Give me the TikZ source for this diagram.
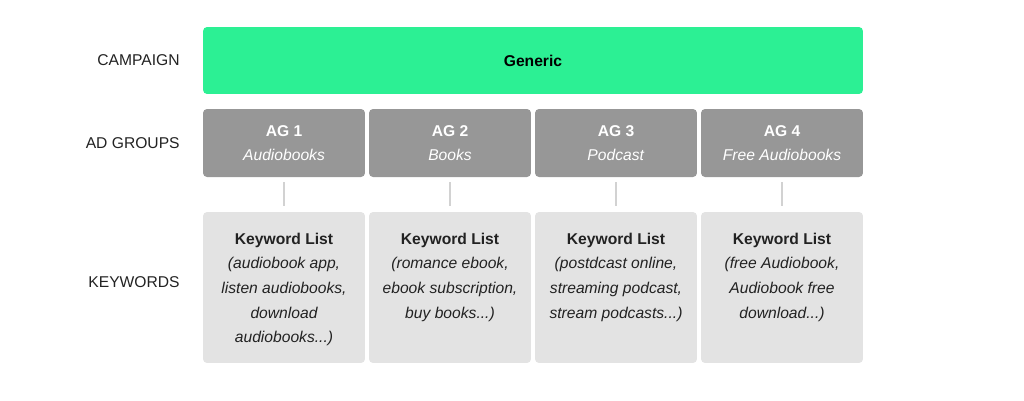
\documentclass[tikz,border=0pt]{standalone}
\usepackage{fontspec}
\setmainfont{Liberation Sans}
\usepackage{tikz}
\usetikzlibrary{positioning}
\definecolor{campgreen}{HTML}{2CF094}
\definecolor{grpgray}{HTML}{979797}
\definecolor{kwgray}{HTML}{E3E3E3}
\definecolor{linkgray}{HTML}{D2D2D2}
\definecolor{labtext}{HTML}{222222}

\begin{document}
\begin{tikzpicture}[
x=0.02cm, y=-0.02cm,
  lab/.style = {anchor=east, inner sep=0pt, text=labtext,
                font=\fontsize{8.9}{10}\selectfont},
 camp/.style = {rectangle, rounded corners=0.08cm, fill=campgreen,
                minimum width=13.2cm, minimum height=1.34cm,
                font=\bfseries\fontsize{8.9}{10}\selectfont},
  grp/.style = {rectangle, rounded corners=0.08cm, fill=grpgray, text=white,
                minimum width=3.24cm, minimum height=1.36cm, align=center,
                font=\fontsize{8.9}{14}\selectfont},
   kw/.style = {rectangle, rounded corners=0.08cm, fill=kwgray, inner sep=0pt,
                text=labtext, font=\fontsize{8.9}{14}\selectfont},
 link/.style = {draw=linkgray, line width=0.6pt, shorten <=0.1cm, shorten >=0.12cm},
                        ]
\useasboundingbox (0,0) rectangle (1024,400);
% row labels
\node[lab] (lcamp) at (180,60) {CAMPAIGN};
\node[lab] (lgrp)  at (180,143) {AD GROUPS};
\node[lab] (lkw)   at (180,282) {KEYWORDS};
% campaign
\node[camp] (camp) at (533,60.5) {\raisebox{-0.6pt}{Generic}};
% ad groups and keyword lists
\foreach \i/\t/\k in {1/Audiobooks/{(audiobook app,\\listen audiobooks,\\download\\audiobooks...)},
                      2/Books/{(romance ebook,\\ebook subscription,\\buy books...)},
                      3/Podcast/{(postdcast online,\\streaming podcast,\\stream podcasts...)},
                      4/Free Audiobooks/{(free Audiobook,\\Audiobook free\\download...)}}
{
    \node[grp] (ag\i) at ({284+166*(\i-1)},143) {\textbf{AG \i}\\\textit{\t}};
    \node[kw]  (kw\i) at ({284+166*(\i-1)},287.5)
        {\parbox[c][3.02cm][t]{3.24cm}{\centering\vspace*{0.42cm}%
         \textbf{Keyword List}\\\textit{\k}}};
    \draw[link] (ag\i.south) -- (kw\i.north);
}
\end{tikzpicture}
\end{document}
